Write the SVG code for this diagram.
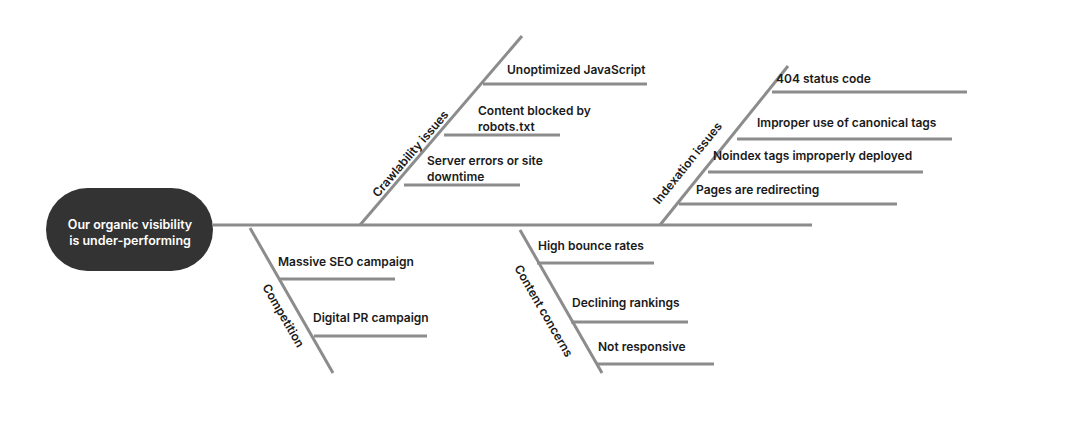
<svg xmlns="http://www.w3.org/2000/svg" width="1077" height="428" viewBox="0 0 1077 428">
<style>
.l{stroke:#8c8c8c;stroke-width:3;fill:none;stroke-linecap:butt}
.t{font-family:Inter,"Liberation Sans",sans-serif;font-size:12px;font-weight:600;fill:#1a1a1a}
.h{font-family:Inter,"Liberation Sans",sans-serif;font-size:12.5px;font-weight:600;fill:#fff}
</style>
<rect width="1077" height="428" fill="#fff"/>
<g id="connectors">
<line class="l" x1="213" y1="225" x2="812" y2="225"/>
<line class="l" x1="360" y1="225" x2="522" y2="36"/>
<line class="l" x1="483" y1="84" x2="647" y2="84"/>
<line class="l" x1="444" y1="135" x2="560" y2="135"/>
<line class="l" x1="404" y1="185" x2="520" y2="185"/>
<line class="l" x1="660" y1="225" x2="788" y2="66"/>
<line class="l" x1="772" y1="92" x2="967" y2="92"/>
<line class="l" x1="737" y1="139" x2="952" y2="139"/>
<line class="l" x1="708" y1="172" x2="923" y2="172"/>
<line class="l" x1="679" y1="204" x2="897" y2="204"/>
<line class="l" x1="250" y1="228" x2="333" y2="373"/>
<line class="l" x1="280" y1="279" x2="395" y2="279"/>
<line class="l" x1="314" y1="336" x2="427" y2="336"/>
<line class="l" x1="520" y1="230" x2="602" y2="373"/>
<line class="l" x1="537" y1="263" x2="654" y2="263"/>
<line class="l" x1="571" y1="322" x2="688" y2="322"/>
<line class="l" x1="596" y1="364" x2="714" y2="364"/>
</g>
<g id="head">
<rect x="46" y="188" width="167" height="83" rx="41.5" fill="#333"/>
<text class="h" x="130" y="229" text-anchor="middle">Our organic visibility</text>
<text class="h" x="130" y="245" text-anchor="middle">is under-performing</text>
</g>
<g id="crawlability">
<text class="t" transform="translate(378,198) rotate(-49.4)">Crawlability issues</text>
<text class="t" x="507" y="74">Unoptimized JavaScript</text>
<text class="t" x="478" y="115">Content blocked by</text>
<text class="t" x="478" y="131">robots.txt</text>
<text class="t" x="427" y="165">Server errors or site</text>
<text class="t" x="427" y="181">downtime</text>
</g>
<g id="indexation">
<text class="t" transform="translate(659,205) rotate(-51)">Indexation issues</text>
<text class="t" x="776" y="83">404 status code</text>
<text class="t" x="757" y="127">Improper use of canonical tags</text>
<text class="t" x="713" y="160">Noindex tags improperly deployed</text>
<text class="t" x="696" y="194">Pages are redirecting</text>
</g>
<g id="competition">
<text class="t" transform="translate(262,287) rotate(60)">Competition</text>
<text class="t" x="278" y="266">Massive SEO campaign</text>
<text class="t" x="313" y="322">Digital PR campaign</text>
</g>
<g id="content">
<text class="t" transform="translate(514,268) rotate(60)">Content concerns</text>
<text class="t" x="538" y="250">High bounce rates</text>
<text class="t" x="572" y="307">Declining rankings</text>
<text class="t" x="598" y="351">Not responsive</text>
</g>
</svg>
